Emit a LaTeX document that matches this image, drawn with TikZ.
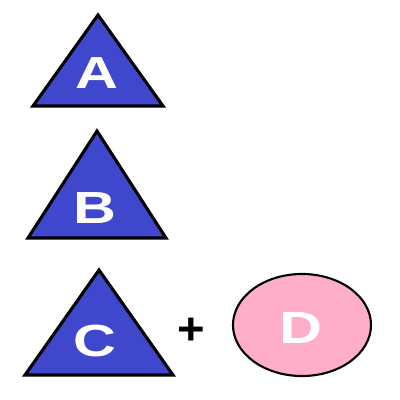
\documentclass[tikz,border=0pt]{standalone}
\usepackage{fontspec}
\setmainfont{Liberation Sans}
\usetikzlibrary{shapes.geometric}
\definecolor{tri-color}{RGB}{63,72,204}
\definecolor{oval-color}{RGB}{255,174,201}
\tikzset{
  tri/.style={draw=black, fill=tri-color, line width=2.2pt},
  oval/.style={ellipse, draw=black, fill=oval-color, line width=1.5pt,
    minimum width=3.45cm, minimum height=2.55cm, inner sep=0pt},
  letter/.style={text=white, font=\fontsize{32}{38}\selectfont\bfseries,
    xscale=1.32, inner sep=0pt},
  op/.style={text=black, font=\fontsize{32}{36}\selectfont\bfseries,
    xscale=1.05, inner sep=0pt}
}
\begin{document}
\begin{tikzpicture}[x=0.025cm, y=-0.025cm]
    \useasboundingbox (0,0) rectangle (400,400);
    % three triangles
    \draw[tri] (33,106) -- (98,15) -- (163,106) -- cycle;
    \draw[tri] (28,238) -- (97,131) -- (166,238) -- cycle;
    \draw[tri] (25,375) -- (99,270) -- (173,375) -- cycle;
    \node[letter] (a) at (97,73) {A};
    \node[letter] (b) at (95,208) {B};
    \node[letter] (c) at (95,341) {C};
    % plus and oval
    \node[op] (plus) at (191,331) {+};
    \node[oval] (oval) at (302,325) {};
    \node[letter] (d) at (301,328) {D};
\end{tikzpicture}
\end{document}
